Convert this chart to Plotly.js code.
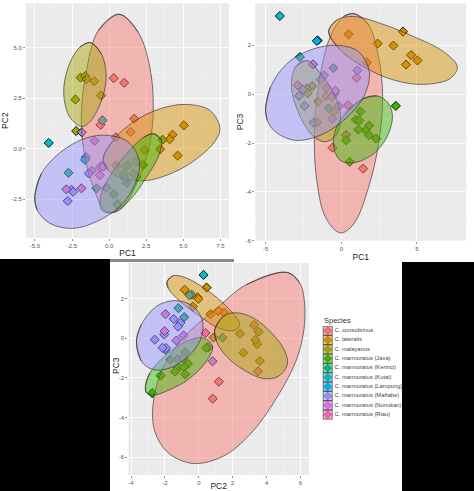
<!DOCTYPE html>
<html>
<head>
<meta charset="utf-8">
<script src="https://cdn.plot.ly/plotly-3.0.1.min.js"></script>
<style>html,body{margin:0;padding:0;background:#fff}#c{width:474px;height:491px}</style>
</head>
<body>
<div id="c"></div>
<script>
const species = ["C. consobrinus","C. lateralis","C. malayanus","C. marmoratus (Java)","C. marmoratus (Kerinci)","C. marmoratus (Kutai)","C. marmoratus (Lampung)","C. marmoratus (Maftabe)","C. marmoratus (Nunukan)","C. marmoratus (Riau)"];
const colors = ["#F8766D","#D89000","#A3A500","#39B600","#00BF7D","#00BFC4","#00B0F6","#9590FF","#E76BF3","#FF62BC"];

const pc1 = [
 [0.31,1.01,-0.58,1.44,0.45],
 [0.47,1.69,5.03,4.27,4.07,2.40,3.44,4.61],
 [-1.93,-1.60,-1.53,-1.01,-2.27,-0.54,-2.22],
 [3.60,1.26,0.95,1.19,1.83,1.61,1.12,1.83,2.29,0.31,0.55],
 [-2.74,-0.85,-0.52],
 [-4.07,-0.45],
 [-1.57,-1.62],
 [-1.84,-1.15,-1.37,-0.18,1.06,-2.54,-2.43,-2.79],
 [-0.63,-0.60,-0.40],
 [-2.88,-1.87,-0.99]
];
const pc2 = [
 [3.49,3.26,1.18,0.82,0.56],
 [-0.84,1.48,1.15,0.69,0.46,-0.08,-0.03,-0.35],
 [3.52,3.60,3.44,3.34,2.43,2.63,0.87],
 [0.44,-0.82,-1.25,-1.69,-0.64,-1.23,-0.89,-1.40,-0.81,-2.25,-2.75],
 [-1.20,-1.97,-0.86],
 [0.28,1.40],
 [-0.42,-0.56],
 [0.81,-1.09,-1.23,-1.94,-1.48,-2.04,-2.14,-2.60],
 [-1.32,-0.92,-0.90],
 [-2.02,-1.97,0.39]
];
const pc3 = [
 [-1.67,0.67,-2.19,-3.05,-0.45],
 [2.45,1.30,1.38,1.21,2.56,2.07,1.99,1.60],
 [0.33,-1.15,-0.30,-0.08,0.23,-0.73,0.04],
 [-0.48,-0.71,-1.05,-1.08,-1.29,-1.48,-1.45,-1.68,-1.82,-1.89,-2.77],
 [1.52,-0.58,1.07],
 [3.20,0.03],
 [2.20,2.18],
 [-1.16,0.77,0.59,-0.49,0.97,0.19,-0.48,-0.07],
 [-0.11,-1.00,0.14],
 [0.36,1.22,0.27]
];

// Ellipse outlines; order: consobrinus, lateralis, malayanus, Java, Maftabe
const ellipseColorIdx = [0,1,2,3,7];

const p1EllipseX = [
 [0.67,1.96,2.74,2.97,2.74,1.96,0.72,-0.18,-1.08,-1.71,-1.87,-1.57,-0.74],
 [-0.40,0.27,1.62,3.42,5.21,6.79,7.46,7.01,5.44,3.87,2.52,0.94,-0.07],
 [-1.26,-0.52,-0.20,-0.52,-1.30,-1.87,-2.65,-3.06,-2.76,-1.98],
 [3.01,3.51,3.30,2.52,1.39,0.16,-0.52,-0.58,0.16,1.39,2.29],
 [-5.01,-4.56,-3.10,-1.53,-0.18,1.28,2.02,1.84,0.94,-0.63,-2.43,-4.00,-4.85]
];
const p1EllipseY = [
 [6.66,5.76,4.03,2.06,0.25,-1.56,-3.04,-3.13,-1.89,-0.08,1.73,3.70,5.84],
 [-0.49,0.41,1.32,1.97,2.19,1.89,0.99,0.25,-0.74,-1.32,-1.58,-1.48,-1.07],
 [5.25,4.69,3.54,2.38,1.32,1.10,1.56,2.71,4.03,5.02],
 [0.74,0.41,-0.41,-1.40,-2.55,-3.17,-3.04,-2.38,-1.23,-0.08,0.54],
 [-2.38,-1.23,-0.08,0.53,0.66,0.33,-0.58,-1.56,-2.71,-3.54,-3.95,-3.70,-3.04]
];
const p2EllipseX = [
 [0.88,1.80,2.46,2.73,2.46,1.80,0.81,-0.07,-1.05,-1.65,-1.78,-1.49,-0.73,0.15],
 [-0.84,-0.29,0.81,2.57,4.77,6.75,7.67,7.19,5.43,3.45,1.47,-0.07],
 [-2.26,-1.49,-0.62,-0.07,-0.29,-1.05,-1.93,-2.81,-3.30,-3.03],
 [1.47,2.35,3.12,3.38,3.01,2.13,0.81,-0.07,-0.51,-0.40,0.26],
 [-5.01,-4.68,-3.58,-2.04,-0.29,1.14,1.85,1.47,0.15,-1.38,-3.03,-4.35,-4.90]
];
const p2EllipseY = [
 [3.29,2.84,1.53,-0.11,-2.03,-3.81,-5.32,-5.68,-5.04,-3.40,-1.62,0.44,2.36,3.18],
 [2.56,3.04,3.18,2.90,2.36,1.74,1.12,0.64,0.40,0.58,1.12,1.81],
 [1.37,0.92,0.16,-0.79,-1.62,-1.95,-1.68,-0.79,0.30,1.12],
 [-0.18,-0.07,-0.38,-0.93,-1.75,-2.44,-2.81,-2.71,-2.16,-1.48,-0.79],
 [-0.59,0.30,1.26,1.81,2.00,1.74,0.92,-0.11,-1.07,-1.68,-1.89,-1.55,-1.07]
];
const p3EllipseX = [
 [5.18,5.96,6.26,5.87,4.59,3.01,1.44,-0.33,-1.81,-2.60,-2.70,-2.20,-0.93,0.85,2.81],
 [-1.87,-1.52,-0.73,0.45,1.63,2.42,2.13,1.24,0.06,-1.12,-1.81],
 [0.94,1.44,2.13,3.21,4.39,5.08,5.22,4.69,3.80,2.62,1.63,1.04],
 [-3.15,-2.89,-1.91,-0.73,0.26,0.81,0.45,-0.63,-1.71,-2.60,-3.09],
 [-3.68,-3.39,-2.50,-1.42,-0.33,0.22,0.06,-0.73,-1.71,-2.70,-3.39]
];
const p3EllipseY = [
 [3.33,2.79,1.19,-0.82,-3.01,-4.86,-5.95,-6.32,-5.78,-4.69,-3.34,-1.66,0.02,1.36,2.71],
 [2.87,3.16,3.04,2.45,1.61,0.69,0.40,0.49,1.11,1.87,2.54],
 [0.44,1.11,1.29,1.03,0.18,-0.66,-1.33,-1.92,-2.03,-1.58,-0.91,-0.15],
 [-2.42,-1.75,-0.82,-0.15,0.02,-0.40,-1.16,-2.08,-2.59,-2.86,-2.76],
 [-0.15,0.69,1.61,1.90,1.61,0.86,-0.15,-0.99,-1.50,-1.58,-1.16]
];

const p1XTicks = [-5,-2.5,0,2.5,5,7.5];
const p1XLabels = ["-5.0","-2.5","0.0","2.5","5.0","7.5"];
const p1YTicks = [-2.5,0,2.5,5];
const p1YLabels = ["-2.5","0.0","2.5","5.0"];
const p2XTicks = [-5,0,5];
const p2YTicks = [-6,-4,-2,0,2];
const p3XTicks = [-4,-2,0,2,4,6];
const p3YTicks = [-6,-4,-2,0,2];

const W = 474, H = 491;
const dx = (a,b)=>[a/W,b/W];
const dy = (top,bottom)=>[1-bottom/H,1-top/H];
const hexA = (h,a)=>{const n=parseInt(h.slice(1),16);return `rgba(${n>>16},${(n>>8)&255},${n&255},${a})`;};
// Wrap the outline around so the spline has no corner where it closes
const wrap = a=>[a[a.length-1],...a,a[0],a[1]];

const traces = [];
function panel(xs,ys,ex,ey,xa,ya){
  xs.forEach((x,i)=>traces.push({type:'scatter',mode:'markers',x:x,y:ys[i],xaxis:xa,yaxis:ya,name:species[i],
    marker:{symbol:'diamond',size:7,color:colors[i],line:{color:'rgba(10,10,10,0.95)',width:1}},hoverinfo:'skip'}));
  ex.forEach((x,i)=>traces.push({type:'scatter',mode:'lines',x:wrap(x),y:wrap(ey[i]),xaxis:xa,yaxis:ya,
    line:{shape:'spline',smoothing:1,color:'rgba(45,45,45,0.7)',width:0.9},
    fill:'toself',fillcolor:hexA(colors[ellipseColorIdx[i]],0.46),hoverinfo:'skip'}));
}
panel(pc1,pc2,p1EllipseX,p1EllipseY,'x','y');
panel(pc1,pc3,p2EllipseX,p2EllipseY,'x2','y2');
panel(pc2,pc3,p3EllipseX,p3EllipseY,'x3','y3');

// Compact legend on its own hidden axes
const idx = species.map((_,i)=>i);
traces.push({type:'scatter',mode:'markers',x:idx.map(()=>5.7),y:idx,xaxis:'x4',yaxis:'y4',
  marker:{symbol:'square',size:9,color:colors.map(c=>hexA(c,0.5)),line:{color:'rgba(45,45,45,0.8)',width:0.8}},hoverinfo:'skip'});
traces.push({type:'scatter',mode:'markers',x:idx.map(()=>5.7),y:idx,xaxis:'x4',yaxis:'y4',
  marker:{symbol:'diamond',size:6,color:colors,line:{color:'rgba(35,35,35,0.6)',width:0.6}},hoverinfo:'skip'});
traces.push({type:'scatter',mode:'text',x:idx.map(()=>12.5),y:idx,xaxis:'x4',yaxis:'y4',text:species,
  textposition:'middle right',textfont:{size:5.8,color:'#444',family:'Liberation Sans, Arial, sans-serif'},hoverinfo:'skip',cliponaxis:false});

function axis(dom,range,vals,labels,title,standoff,anchor){
  return {domain:dom,range:range,anchor:anchor,tickmode:'array',tickvals:vals,ticktext:labels,
    showgrid:true,gridcolor:'#fff',gridwidth:0.9,zeroline:false,showline:false,
    ticks:'outside',ticklen:2,tickwidth:0.6,tickcolor:'#444',
    tickfont:{size:6,color:'#555',family:'Liberation Sans, Arial, sans-serif'},
    minor:{showgrid:true,gridcolor:'#f6f6f6',gridwidth:0.5,tickmode:'array',tickvals:vals.slice(0,-1).map((v,i)=>(v+vals[i+1])/2),ticks:''},
    title:{text:title,standoff:standoff,font:{size:8.5,color:'#222',family:'Liberation Sans, Arial, sans-serif'}},
    automargin:false};
}
const panelBg = (x0,x1,top,bottom)=>({type:'rect',xref:'paper',yref:'paper',x0:x0/W,x1:x1/W,y0:1-bottom/H,y1:1-top/H,fillcolor:'#EBEBEB',line:{width:0},layer:'below'});

const layout = {
  width:W,height:H,margin:{l:0,r:0,t:0,b:0,pad:0},paper_bgcolor:'#fff',plot_bgcolor:'rgba(0,0,0,0)',showlegend:false,
  xaxis:axis(dx(26,229),[-5.6,8.07],p1XTicks,p1XLabels,'PC1',1,'y'),
  yaxis:axis(dy(3.3,238),[-4.43,7.2],p1YTicks,p1YLabels,'PC2',3,'x'),
  xaxis2:axis(dx(255.3,466.3),[-5.69,8.26],p2XTicks,p2XTicks.map(String),'PC1',3,'y2'),
  yaxis2:axis(dy(3.3,240.7),[-6.0,3.72],p2YTicks,p2YTicks.map(String),'PC3',0,'x2'),
  xaxis3:axis(dx(128.3,309),[-4.16,6.5],p3XTicks,p3XTicks.map(String),'PC2',0,'y3'),
  yaxis3:Object.assign(axis(dy(263,475),[-6.9,3.8],p3YTicks,p3YTicks.map(String),'',0,'x3'),{title:{text:''}}),
  xaxis4:{domain:dx(322,402),range:[0,80],visible:false,anchor:'y4'},
  yaxis4:{domain:dy(326,420),range:[9.57,-0.5],visible:false,anchor:'x4'},
  shapes:[
    panelBg(26,229,3.3,238),panelBg(255.3,466.3,3.3,240.7),panelBg(128.3,309,263,475),
    {type:'rect',xref:'paper',yref:'paper',x0:0,x1:110/W,y0:0,y1:1-259/H,fillcolor:'#000',line:{width:0},layer:'below'},
    {type:'rect',xref:'paper',yref:'paper',x0:402/W,x1:1,y0:0,y1:1-262/H,fillcolor:'#000',line:{width:0},layer:'below'},
    {type:'rect',xref:'paper',yref:'paper',x0:110/W,x1:234/W,y0:1-262/H,y1:1-259/H,fillcolor:'#8a8a8a',line:{width:0},layer:'below'}
  ],
  annotations:[
    {xref:'paper',yref:'paper',x:322/W,y:1-320/H,xanchor:'left',yanchor:'middle',showarrow:false,text:'Species',
     font:{size:7.5,color:'#333',family:'Liberation Sans, Arial, sans-serif'}},
    {xref:'paper',yref:'paper',x:116/W,y:1-366/H,xanchor:'center',yanchor:'middle',showarrow:false,text:'PC3',textangle:-90,
     font:{size:8.5,color:'#222',family:'Liberation Sans, Arial, sans-serif'}}
  ]
};
Plotly.newPlot('c',traces,layout,{staticPlot:true,displayModeBar:false});
</script>
</body>
</html>
